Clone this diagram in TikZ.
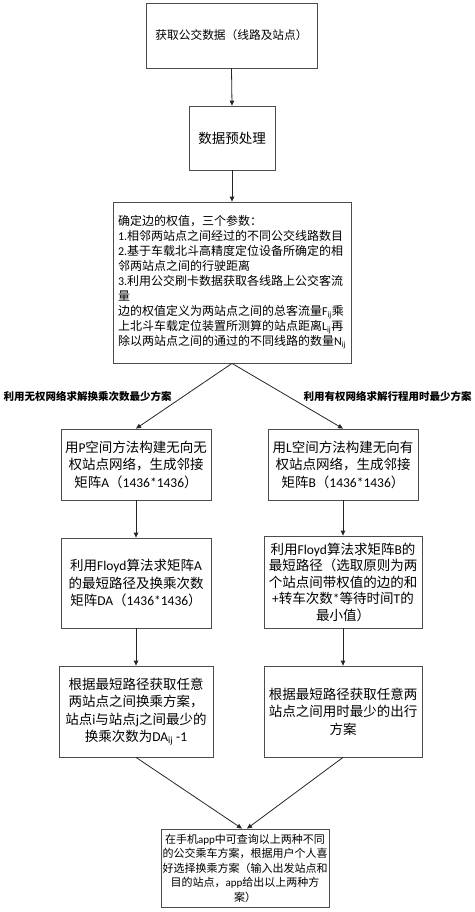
\documentclass[tikz,border=0pt]{standalone}
\usepackage{fontspec}
\setmainfont{Noto Sans CJK SC}
\newfontfamily\latf{Carlito}
\usetikzlibrary{arrows.meta}
\newcommand{\Lt}[1]{{\latf #1}}
\newcommand{\sbij}{\textsubscript{\latf ij}}
\tikzset{
  box/.style={draw=black!70, line width=0.8pt, inner sep=0pt, align=center, text=black},
  arr/.style={draw=black!85, line width=0.8pt, -{Triangle[length=5pt,width=4.5pt]}},
  fbig/.style={font=\fontsize{13.5}{17.5}\selectfont},
  lbl/.style={font=\bfseries\fontsize{10.5}{12}\selectfont, inner sep=0pt}
}
\begin{document}
\begin{tikzpicture}[x=1pt,y=-1pt]
\fill[white] (0,0) rectangle (474,912);
\useasboundingbox (0,0) rectangle (474,912);

\node[box, minimum width=171pt, minimum height=65pt, font=\fontsize{11.7}{14}\selectfont] (b1) at (231.5,35.5) {获取公交数据（线路及站点）};
\node[box, minimum width=86pt, minimum height=64pt, font=\fontsize{13.5}{17}\selectfont] (b2) at (232,138) {数据预处理};
\node[box, minimum width=238pt, minimum height=161pt, align=left, font=\fontsize{12}{15}\selectfont] (b3) at (232,282.5) {确定边的权值，三个参数：\\
\Lt{1.}相邻两站点之间经过的不同公交线路数目\\
\Lt{2.}基于车载北斗高精度定位设备所确定的相\\
邻两站点之间的行驶距离\\
\Lt{3.}利用公交刷卡数据获取各线路上公交客流\\
量\\
边的权值定义为两站点之间的总客流量\Lt{F}\sbij 乘\\
上北斗车载定位装置所测算的站点距离\Lt{L}\sbij 再\\
除以两站点之间的通过的不同线路的数量\Lt{N}\sbij};

\node[box, fbig, minimum width=150pt, minimum height=71pt] (b4l) at (136,464.5) {用\Lt{P}空间方法构建无向无\\权站点网络，生成邻接\\矩阵\Lt{A}（\Lt{1436*1436}）};
\node[box, fbig, minimum width=150pt, minimum height=71pt] (b4r) at (343,464.5) {用\Lt{L}空间方法构建无向有\\权站点网络，生成邻接\\矩阵\Lt{B}（\Lt{1436*1436}）};

\node[box, fbig, minimum width=150pt, minimum height=90pt] (b5l) at (136,583) {利用\Lt{Floyd}算法求矩阵\Lt{A}\\的最短路径及换乘次数\\矩阵\Lt{DA}（\Lt{1436*1436}）};
\node[box, minimum width=158pt, minimum height=92pt, font=\fontsize{13.5}{16.5}\selectfont] (b5r) at (343,582) {利用\Lt{Floyd}算法求矩阵\Lt{B}的\\最短路径（选取原则为两\\个站点间带权值的边的和\\\Lt{+}转车次数\Lt{*}等待时间\Lt{T}的\\最小值）};

\node[box, fbig, minimum width=154pt, minimum height=91pt] (b6l) at (136,711.5) {根据最短路径获取任意\\两站点之间换乘方案，\\站点\Lt{i}与站点\Lt{j}之间最少的\\换乘次数为\Lt{DA}\sbij\ \Lt{-1}};
\node[box, fbig, minimum width=158pt, minimum height=91pt] (b6r) at (343,711.5) {根据最短路径获取任意两\\站点之间用时最少的出行\\方案};

\node[box, minimum width=168pt, minimum height=78pt, font=\fontsize{11}{14.5}\selectfont] (b7) at (245,868) {在手机\Lt{app}中可查询以上两种不同\\的公交乘车方案，根据用户个人喜\\好选择换乘方案（输入出发站点和\\目的站点，\Lt{app}给出以上两种方\\案）};

\node[lbl] (l1) at (87.5,396) {利用无权网络求解换乘次数最少方案};
\node[lbl] (l2) at (387.5,396) {利用有权网络求解行程用时最少方案};

\draw[arr] (b1.south) -- (b2.north);
\draw[arr] (b2.south) -- (b3.north);
\draw[arr] (b3.south) -- (b4l.north);
\draw[arr] (b3.south) -- (b4r.north);
\draw[arr] (b4l.south) -- (b5l.north);
\draw[arr] (b4r.south) -- (b5r.north);
\draw[arr] (b5l.south) -- (b6l.north);
\draw[arr] (b5r.south) -- (b6r.north);
\draw[arr] (b6l.south) -- ([xshift=-3pt]b7.north);
\draw[arr] (b6r.south) -- ([xshift=2pt]b7.north);
\end{tikzpicture}
\end{document}
